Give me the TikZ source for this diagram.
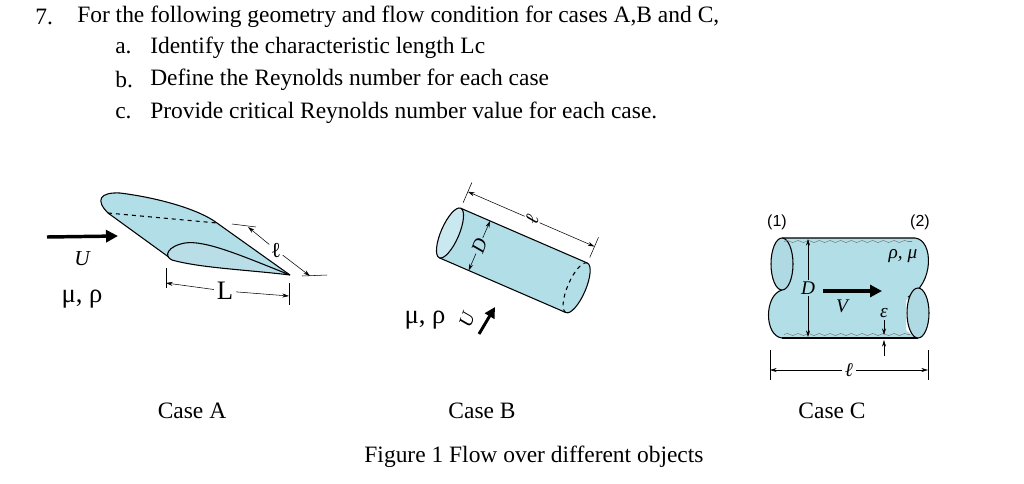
\documentclass[tikz,border=0pt]{standalone}
\usepackage{fontspec}
\setmainfont{Liberation Serif}
\newfontfamily\sansf{Liberation Sans}
\usetikzlibrary{arrows.meta,decorations.pathmorphing}
\definecolor{cyanf}{RGB}{178,222,232}
\definecolor{cyand}{RGB}{140,200,215}
\tikzset{
  txt/.style={anchor=west,inner sep=0pt,font=\fontsize{17.6}{20}\selectfont},
  captext/.style={inner sep=0pt,font=\fontsize{17.6}{20}\selectfont},
  greek/.style={inner sep=0pt,font=\fontsize{20}{22}\selectfont},
  lbl/.style={inner sep=0pt,font=\fontsize{14.5}{16}\selectfont\itshape},
  dim/.style={-{Stealth[length=5pt,width=3pt]},thin},
  bigarrow/.style={line width=2.6pt,-{Triangle[length=9pt,width=9pt]}}
}
\begin{document}
\begin{tikzpicture}[x=0.75pt,y=-0.75pt]
\useasboundingbox (0,0) rectangle (1024,483);
% text
\node[txt] (n7) at (35,17) {7.};
\node[txt] (t0) at (77,17) {For the following geometry and flow condition for cases A,B and C,};
\node[txt] (la) at (115,48) {a.};
\node[txt] (ta) at (150,48) {Identify the characteristic length Lc};
\node[txt] (lb) at (115,80) {b.};
\node[txt] (tb) at (150,80) {Define the Reynolds number for each case};
\node[txt] (lc) at (115,113) {c.};
\node[txt] (tc) at (150,113) {Provide critical Reynolds number value for each case.};
% ---------- Case A
\fill[cyanf] (108,213) .. controls (95,200) and (100,192) .. (120,193)
  .. controls (160,198) and (200,210) .. (217,223) -- (290,275)
  .. controls (250,270) and (190,266) .. (170,258) -- cycle;
\draw[thick] (108,213) .. controls (95,200) and (100,192) .. (120,193)
  .. controls (160,198) and (200,210) .. (217,223) -- (290,275);
\draw[thick] (108,213) -- (170,258);
\draw[thick,dashed] (108,213) -- (217,223);
\draw[thick,fill=cyand!60] (290,275) .. controls (240,255) and (205,240) .. (185,243)
  .. controls (168,246) and (163,256) .. (172,260)
  .. controls (200,268) and (250,270) .. (290,275);
\coordinate (ua) at (47,237); \coordinate (ub) at (118,236);
\draw[bigarrow] (ua) -- (ub);
\node[lbl,font=\fontsize{16}{18}\selectfont\itshape] (U1) at (82,259) {U};
\node[greek] (mr1) at (82,299) {μ, ρ};
\coordinate (L1) at (166,283); \coordinate (L2) at (289,296);
\draw (166,268) -- (166,288); \draw (289,283) -- (289,305);
\node[captext,fill=white,inner sep=2pt,font=\fontsize{20}{22}\selectfont] (L) at (225,291) {L};
\draw[dim] (L) -- (L1); \draw[dim] (L) -- (L2);
\draw (232,224) -- (256,227); \draw (302,276) -- (327,275);
\node[lbl,fill=white,inner sep=1pt,font=\fontsize{16}{18}\selectfont] (ell1) at (276,250) {ℓ};
\draw[dim] (ell1) -- (248,227); \draw[dim] (ell1) -- (310,276);
\node[captext] (ca) at (192,411) {Case A};
% ---------- Case B
\begin{scope}[shift={(450,233)},rotate=-23.4]
  \fill[cyanf] (0,-27) -- (138,-27) arc[start angle=-90,end angle=90,x radius=9,y radius=27] -- (0,27) arc[start angle=90,end angle=270,x radius=9,y radius=27] -- cycle;
  \fill[cyanf!70!white] (0,0) ellipse[x radius=9,y radius=27];
  \draw[thick] (0,0) ellipse[x radius=9,y radius=27];
  \draw[thick] (0,-27) -- (138,-27) (0,27) -- (138,27);
  \draw[thick] (138,-27) arc[start angle=-90,end angle=90,x radius=9,y radius=27];
  \draw[thick,dashed] (138,27) arc[start angle=90,end angle=270,x radius=9,y radius=27];
  \draw (0,-33) -- (0,-55); \draw (138,-33) -- (138,-55);
  \node[lbl,fill=white,inner sep=1pt,rotate=70] (ell2) at (70,-45) {ℓ};
  \draw[dim] (ell2) -- (0,-45); \draw[dim] (ell2) -- (138,-45);
  \node[lbl,rotate=70,inner sep=1pt] (Dl) at (32,0) {D};
  \draw[dim] (Dl) -- (32,-27); \draw[dim] (Dl) -- (32,27);
\end{scope}
\coordinate (ub1) at (479,334); \coordinate (ub2) at (495,307);
\draw[line width=2.2pt,-{Triangle[length=8pt,width=8pt]}] (ub1) -- (ub2);
\node[lbl,rotate=70] (U2) at (467,320) {U};
\node[greek] (mr2) at (425,320) {μ, ρ};
\node[captext] (cb) at (482,411) {Case B};
% ---------- Case C
\fill[cyanf] (782,238) -- (915,238) .. controls (934,240) and (934,285) .. (906,300)
  -- (906,330) -- (915,338) -- (782,338) .. controls (764,336) and (764,295) .. (782,290) -- cycle;
\draw[thick] (782,238) -- (915,238) .. controls (934,240) and (934,285) .. (908,297);
\draw[thick] (782,338) -- (918,338);
\draw[thick] (782,290) .. controls (764,295) and (764,336) .. (782,338);
\draw[thick,fill=cyand!70] (782,264) ellipse[x radius=11,y radius=26];
\draw[thick,fill=cyand!70] (918,313) ellipse[x radius=11,y radius=25];
\draw[gray,decorate,decoration={snake,amplitude=0.8,segment length=8}] (784,241.5) -- (912,241.5);
\draw[gray,decorate,decoration={snake,amplitude=0.8,segment length=8}] (784,334.5) -- (910,334.5);
\node[lbl,fill=cyanf,inner sep=1pt] (Dc) at (808,288) {D};
\draw[dim] (Dc) -- (808,239); \draw[dim] (Dc) -- (808,337);
\coordinate (v1) at (823,291); \coordinate (v2) at (882,291);
\draw[line width=2.6pt,-{Triangle[length=9pt,width=9pt]}] (v1) -- (v2);
\node[lbl] (V) at (842,306) {V};
\node[lbl] (rm) at (903,256) {ρ, μ};
\node[lbl] (eps) at (884,313) {ε};
\draw[dim] (884,320) -- (884,335);
\draw[dim] (884,356) -- (884,340);
\draw (770,350) -- (770,380); \draw (928,350) -- (928,380);
\node[lbl,fill=white,inner sep=2pt] (ell3) at (849,370) {ℓ};
\draw[dim] (ell3) -- (770,370); \draw[dim] (ell3) -- (928,370);
\node[inner sep=0pt,font=\sansf\fontsize{12}{14}\selectfont] (p1) at (777,222) {(1)};
\node[inner sep=0pt,font=\sansf\fontsize{12}{14}\selectfont] (p2) at (920,222) {(2)};
\node[captext] (cc) at (832,411) {Case C};
\node[captext] (fig) at (534,457) {Figure 1 Flow over different objects};
\end{tikzpicture}
\end{document}
